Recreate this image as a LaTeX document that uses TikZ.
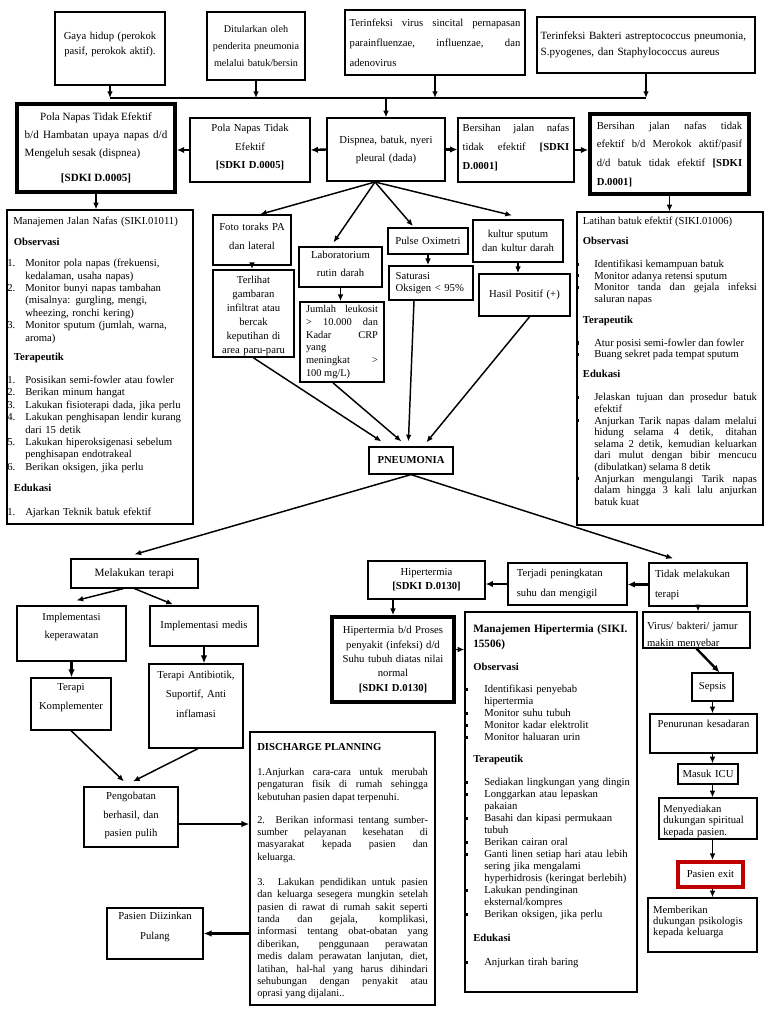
\documentclass[tikz,border=0pt]{standalone}
\usepackage{fontspec}
\setmainfont{Liberation Serif}
\usetikzlibrary{arrows.meta,calc}
\setlength\parindent{0pt}
\newcommand\fs[1]{\fontsize{8}{#1}\selectfont}
\newcommand\fsz[2]{\fontsize{#1}{#2}\selectfont}
\newcommand\numi[2]{\par\hangindent=13.5pt\hangafter=1\noindent\makebox[13.5pt][l]{#1}#2\par}
\newcommand\bul[2][13.5pt]{\par\hangindent=#1\hangafter=1\noindent\makebox[#1][l]{\rule[1.4pt]{2.3pt}{2.3pt}}#2\par}
\newcommand\bx[8][]{%
 \pgfmathsetmacro\bxw{(#6-#4)*0.75}%
 \pgfmathsetmacro\bxh{(#7-#5)*0.75}%
 \pgfmathsetmacro\bxt{(#6-#4)*0.75-7}%
 \node[box,#2,minimum width=\bxw pt,minimum height=\bxh pt] (#3) at ({(#4+#6)/2},{(#5+#7)/2}) {};
 \node[txt,text width=\bxt pt,#1] (#3-t) at (#3.center) {#8};}
\tikzset{
 box/.style={draw, line width=0.9pt, inner sep=0pt, rectangle},
 thickbox/.style={line width=2.8pt},
 medbox/.style={line width=1.3pt},
 exitbox/.style={line width=2.8pt, draw={rgb,255:red,192;green,0;blue,0}},
 txt/.style={inner sep=0pt, align=center, font=\fs{9}},
 arr/.style={-{Latex[length=5pt,width=4.2pt]}, line width=1.1pt},
 warr/.style={-{Latex[length=5.5pt,width=4.8pt]}, line width=1.8pt},
 tarr/.style={-{Latex[length=6pt,width=5pt]}, line width=2.2pt},
 ln/.style={line width=1.3pt},
}
\begin{document}
\begin{tikzpicture}[x=0.75pt,y=-0.75pt]
\fill[white] (0,0) rectangle (768,1024);
\useasboundingbox (0,0) rectangle (768,1024);

% ---- top row
\bx[font=\fs{11.3},yshift=3pt]{}{A}{55}{12}{165}{85}{Gaya hidup (perokok\\ pasif, perokok aktif).}
\bx[font=\fsz{7.6}{12.8}]{}{B}{207}{12}{305}{80}{Ditularkan oleh\\ penderita pneumonia\\ melalui batuk/bersin}
\bx[font=\fs{15},align=justify]{}{C}{345}{10}{525}{75}{Terinfeksi virus sincital pernapasan\linebreak parainfluenzae, influenzae, dan\linebreak adenovirus}
\bx[font=\fsz{8.3}{12},align=left,text width=158pt]{}{D}{537}{17}{755}{73}{Terinfeksi Bakteri astreptococcus pneumonia,\\ S.pyogenes, dan Staphylococcus aureus}

% ---- second row
\bx[font=\fsz{8.3}{13.5},align=justify,text width=107pt]{thickbox}{L1}{17}{104}{175}{192}{{\centering Pola Napas Tidak Efektif\par}b/d Hambatan upaya napas d/d\linebreak Mengeluh sesak (dispnea)\par\vspace{5pt}{\centering\textbf{[SDKI D.0005]}\par}}
\bx[font=\fs{14},yshift=2pt]{}{L2}{190}{118}{310}{182}{Pola Napas Tidak\\ Efektif\\ \textbf{[SDKI D.0005]}}
\bx[font=\fs{13.5}]{}{M}{327}{118}{445}{181}{Dispnea, batuk, nyeri\\ pleural (dada)}
\bx[font=\fs{14.2},align=justify,yshift=2pt]{}{R2}{458}{118}{574}{182}{Bersihan jalan nafas\linebreak tidak efektif \textbf{[SDKI}\linebreak \textbf{D.0001]}}
\bx[font=\fs{14},align=justify,text width=109pt]{thickbox}{R1}{590}{114}{749}{194}{Bersihan jalan nafas tidak\linebreak efektif b/d Merokok aktif/pasif\linebreak d/d batuk tidak efektif \textbf{[SDKI}\linebreak \textbf{D.0001]}}

% ---- side boxes
\node[box,minimum width=139.5pt,minimum height=235.5pt] (manL) at (100,367) {};
\node[anchor=north west,inner sep=0pt,text width=140pt,align=left,font=\fs{9.3}] (manL-t) at (7,217) {%
\hspace*{4.5pt}Manajemen Jalan Nafas (SIKI.01011)\par
\vspace{6.4pt}\hspace*{5pt}\textbf{Observasi}\par\vspace{6.4pt}
\numi{1.}{Monitor pola napas (frekuensi,\newline kedalaman, usaha napas)}
\numi{2.}{Monitor bunyi napas tambahan\newline (misalnya: gurgling, mengi,\newline wheezing, ronchi kering)}
\numi{3.}{Monitor sputum (jumlah, warna,\newline aroma)}
\vspace{5.4pt}\hspace*{5pt}\textbf{Terapeutik}\par\vspace{7.9pt}
\numi{1.}{Posisikan semi-fowler atau fowler}
\numi{2.}{Berikan minum hangat}
\numi{3.}{Lakukan fisioterapi dada, jika perlu}
\numi{4.}{Lakukan penghisapan lendir kurang\newline dari 15 detik}
\numi{5.}{Lakukan hiperoksigenasi sebelum\newline penghisapan endotrakeal}
\numi{6.}{Berikan oksigen, jika perlu}
\vspace{6.6pt}\hspace*{5pt}\textbf{Edukasi}\par\vspace{8.7pt}
\numi{1.}{Ajarkan Teknik batuk efektif}};

\node[box,minimum width=139.5pt,minimum height=234.75pt] (manR) at (670,368.5) {};
\node[anchor=north west,inner sep=0pt,text width=135.5pt,align=justify,font=\fs{8.7}] (manR-t) at (576,217) {%
\hspace*{5pt}Latihan batuk efektif (SIKI.01006)\par
\vspace{6.3pt}\hspace*{5pt}\textbf{Observasi}\par\vspace{8.5pt}
\bul{Identifikasi kemampuan batuk}
\bul{Monitor adanya retensi sputum}
\bul{Monitor tanda dan gejala infeksi\linebreak saluran napas}
\vspace{7pt}\hspace*{5pt}\textbf{Terapeutik}\par\vspace{8.5pt}
\bul{Atur posisi semi-fowler dan fowler}
\bul{Buang sekret pada tempat sputum}
\vspace{6.3pt}\hspace*{5pt}\textbf{Edukasi}\par\vspace{8.5pt}
\bul{Jelaskan tujuan dan prosedur batuk\linebreak efektif}
\bul{Anjurkan Tarik napas dalam melalui\linebreak hidung selama 4 detik, ditahan\linebreak selama 2 detik, kemudian keluarkan\linebreak dari mulut dengan bibir mencucu\linebreak (dibulatkan) selama 8 detik}
\bul{Anjurkan mengulangi Tarik napas\linebreak dalam hingga 3 kali lalu anjurkan\linebreak batuk kuat}};

% ---- tests
\bx[font=\fs{14.2},yshift=3pt]{}{Fo}{213}{215}{291}{265}{Foto toraks PA\\ dan lateral}
\bx[font=\fs{10.5},yshift=-2pt]{medbox}{Te}{213}{270}{294}{357}{Terlihat\\ gambaran\\ infiltrat atau\\ bercak\\ keputihan di\\ area paru-paru}
\bx[font=\fs{13.5},yshift=2pt]{}{La}{299}{247}{382}{287}{Laboratorium\\ rutin darah}
\bx[font=\fsz{7.8}{9.6},align=justify,text width=54pt]{medbox}{Ju}{300}{302}{384}{382}{Jumlah leukosit\linebreak > 10.000 dan\linebreak Kadar CRP\linebreak yang\\ meningkat >\linebreak 100 mg/L)}
\bx[font=\fs{9}]{medbox}{Pu}{388}{228}{468}{254}{Pulse Oximetri}
\bx[font=\fs{9},align=left,text width=53pt]{medbox}{Sa}{389}{266}{473}{300}{Saturasi\\ Oksigen < 95\%}
\bx[font=\fs{10.5}]{}{Ku}{473}{220}{563}{262}{kultur sputum\\ dan kultur darah}
\bx[font=\fs{9}]{medbox}{Ha}{479}{274}{570}{316}{Hasil Positif (+)}
\bx[font=\bfseries\fs{9}]{}{P}{369}{447}{453}{474}{PNEUMONIA}

% ---- lower left
\bx[font=\fsz{8.4}{9}]{}{Me}{71}{559}{198}{588}{Melakukan terapi}
\bx[font=\fs{13.5},yshift=5pt]{}{IK}{17}{606}{126}{661}{Implementasi\\ keperawatan}
\bx[font=\fs{9}]{}{IM}{150}{606}{258}{646}{Implementasi medis}
\bx[font=\fs{14.2},yshift=5pt]{}{TK}{31}{678}{111}{730}{Terapi\\ Komplementer}
\bx[font=\fs{14.6},yshift=9pt]{}{TA}{149}{664}{243}{748}{Terapi Antibiotik,\\ Suportif, Anti\\ inflamasi}
\bx[font=\fs{13.9},yshift=1pt]{}{Pe}{84}{787}{178}{847}{Pengobatan\\ berhasil, dan\\ pasien pulih}
\bx[font=\fs{15},yshift=5pt]{}{Pa}{107}{908}{203}{959}{Pasien Diizinkan\\ Pulang}

\node[box,minimum width=138.75pt,minimum height=204.75pt] (DP) at (342.5,868.5) {};
\node[anchor=north west,inner sep=0pt,text width=128pt,align=justify,font=\fsz{7.8}{9.3}] (DP-t) at (257,743) {%
{\fsz{8}{9.3}\textbf{DISCHARGE PLANNING}\par}\vspace{9.4pt}
1.Anjurkan cara-cara untuk merubah\linebreak pengaturan fisik di rumah sehingga\linebreak kebutuhan pasien dapat terpenuhi.\par\vspace{8pt}
2. Berikan informasi tentang sumber-\linebreak sumber pelayanan kesehatan di\linebreak masyarakat kepada pasien dan\linebreak keluarga.\par\vspace{9.4pt}
3. Lakukan pendidikan untuk pasien\linebreak dan keluarga sesegera mungkin setelah\linebreak pasien di rawat di rumah sakit seperti\linebreak tanda dan gejala, komplikasi,\linebreak informasi tentang obat-obatan yang\linebreak diberikan, penggunaan perawatan\linebreak medis dalam perawatan lanjutan, diet,\linebreak latihan, hal-hal yang harus dihindari\linebreak sehubungan dengan penyakit atau\linebreak oprasi yang dijalani..};

% ---- right part
\bx[font=\fs{10.5}]{}{Hi}{368}{561}{485}{599}{Hipertermia\\ \textbf{[SDKI D.0130]}}
\bx[font=\fs{15},align=left,text width=76pt]{}{Tr}{508}{563}{627}{605}{Terjadi peningkatan\\ suhu dan mengigil}
\bx[font=\fs{15},align=left,text width=64.5pt]{}{Ti}{649}{563}{747}{606}{Tidak melakukan\\ terapi}
\bx[font=\fs{10.7}]{thickbox}{HB}{332}{617}{454}{702}{Hipertermia b/d Proses\\ penyakit (infeksi) d/d\\ Suhu tubuh diatas nilai\\ normal\\ \textbf{[SDKI D.0130]}}

\node[box,minimum width=129pt,minimum height=285pt] (MH) at (551,802) {};
\node[anchor=north west,inner sep=0pt,text width=140pt,align=left,font=\fs{9}] (MH-t) at (465,624) {%
{\fsz{8.4}{11.3}\bfseries\hspace*{6pt}Manajemen Hipertermia (SIKI.\\\hspace*{6pt}15506)\par}
\vspace{8.2pt}\hspace*{6pt}\textbf{Observasi}\par\vspace{8.2pt}
\bul[14.25pt]{Identifikasi penyebab\newline hipertermia}
\bul[14.25pt]{Monitor suhu tubuh}
\bul[14.25pt]{Monitor kadar elektrolit}
\bul[14.25pt]{Monitor haluaran urin}
\vspace{7.5pt}\hspace*{6pt}\textbf{Terapeutik}\par\vspace{8.2pt}
\bul[14.25pt]{Sediakan lingkungan yang dingin}
\bul[14.25pt]{Longgarkan atau lepaskan\newline pakaian}
\bul[14.25pt]{Basahi dan kipasi permukaan\newline tubuh}
\bul[14.25pt]{Berikan cairan oral}
\bul[14.25pt]{Ganti linen setiap hari atau lebih\newline sering jika mengalami\newline hyperhidrosis (keringat berlebih)}
\bul[14.25pt]{Lakukan pendinginan\newline eksternal/kompres}
\bul[14.25pt]{Berikan oksigen, jika perlu}
\vspace{9pt}\hspace*{6pt}\textbf{Edukasi}\par\vspace{9pt}
\bul[14.25pt]{Anjurkan tirah baring}};

\bx[font=\fs{12.75},align=left,text width=74pt,yshift=-4pt]{}{Vi}{643}{612}{750}{648}{Virus/ bakteri/ jamur\\ makin menyebar}
\bx[font=\fs{9},text width=40pt]{}{Se}{692}{673}{733}{701}{Sepsis}
\bx[font=\fs{9},yshift=7.5pt]{}{Pn}{650}{714}{757}{753}{Penurunan kesadaran}
\bx[font=\fs{9},text width=55pt]{}{IC}{678}{764}{738}{784}{Masuk ICU}
\bx[font=\fs{8.6},align=left,text width=67pt,yshift=-2pt]{}{My}{659}{798}{757}{839}{Menyediakan\\ dukungan spiritual\\ kepada pasien.}
\bx[font=\fs{9},text width=55pt]{exitbox}{Ex}{678}{862}{743}{887}{Pasien exit}
\bx[font=\fs{8.3},align=left,text width=74pt,yshift=2pt]{}{Mm}{648}{898}{757}{952}{Memberikan\\ dukungan psikologis\\ kepada keluarga}

% ---- connectors: top
\coordinate (busL) at (110,98);
\coordinate (busR) at (646,98);
\draw[ln] (busL) -- (busR);
\foreach \nn in {A,B,C,D} \draw[arr] (\nn.south) -- (\nn.south |- busL);
\draw[arr] (M.north |- busL) -- (M.north);
\draw[warr] (M.west) -- (L2.east);
\draw[warr] (L2.west) -- (L2.west -| L1.east);
\draw[warr] (M.east) -- (M.east -| R2.west);
\draw[warr] (R2.east) -- (R2.east -| R1.west);
\draw[arr] (L1.south) -- (L1.south |- manL.north);
\draw[arr] (R1.south) -- (R1.south |- manR.north);

% tests
\coordinate (Mbot) at (375,182);
\draw[arr] (Mbot) -- ($(Fo.north)+(8,0)$);
\draw[arr] (Mbot) -- ($(La.north)+(-7,-4)$);
\draw[arr] (Mbot) -- ($(Pu.north)+(-15,-1)$);
\draw[arr] (Mbot) -- ($(Ku.north)+(-6,-4)$);
\draw[arr] (Fo.south) -- (Fo.south |- Te.north);
\draw[arr] (La.south) -- (La.south |- Ju.north);
\draw[arr] (Pu.south) -- (Pu.south |- Sa.north);
\draw[arr] (Ku.south) -- (Ku.south |- Ha.north);
\draw[arr] (Te.south) -- ($(P.north west)+(13,-5)$);
\draw[arr] ($(Ju.south)+(-9,0)$) -- ($(P.north west)+(33,-5)$);
\draw[arr] ($(Sa.south)+(-17,0)$) -- ($(P.north west)+(40,-5)$);
\draw[arr] ($(Ha.south)+(5,0)$) -- ($(P.north west)+(58,-4)$);

% lower left
\draw[arr] (P.south) -- ($(Me.north)+(0,-4)$);
\draw[arr] (P.south) -- ($(Ti.north)+(-25,-4)$);
\draw[arr] ($(Me.south)+(-11,0)$) -- ($(IK.north)+(5,-5)$);
\draw[arr] (Me.south) -- ($(IM.north)+(-31,-1)$);
\draw[tarr] (IK.south) -- (IK.south |- TK.north);
\draw[tarr] (IM.south) -- (IM.south |- TA.north);
\draw[arr] (TK.south) -- ($(Pe.north)+(-7,-5)$);
\draw[arr] ($(TA.south)+(2,0)$) -- ($(Pe.north)+(2,-5)$);
\draw[tarr] ($(Pe.east)+(0,7)$) coordinate (pq) -- (pq -| DP.west);
\draw[tarr] (DP.west |- Pa.east) -- (Pa.east);

% right
\draw[warr] (Ti.west) -- (Ti.west -| Tr.east);
\draw[warr] (Tr.west) -- (Tr.west -| Hi.east);
\draw[arr] (HB.north |- Hi.south) -- (HB.north);
\draw[arr] ($(HB.east)+(0,-10)$) coordinate (hq) -- (hq -| MH.west);
\draw[arr] (Ti.south) -- (Ti.south |- Vi.north);
\draw[warr] (Vi.south) -- ($(Se.north)+(7,0)$);
\draw[arr] (Se.south) -- (Se.south |- Pn.north);
\draw[arr] (Se.south |- Pn.south) -- (Se.south |- IC.north);
\draw[arr] (Se.south |- IC.south) -- (Se.south |- My.north);
\draw[arr] (Se.south |- My.south) -- (Se.south |- Ex.north);
\draw[arr] (Se.south |- Ex.south) -- (Se.south |- Mm.north);
\end{tikzpicture}
\end{document}
